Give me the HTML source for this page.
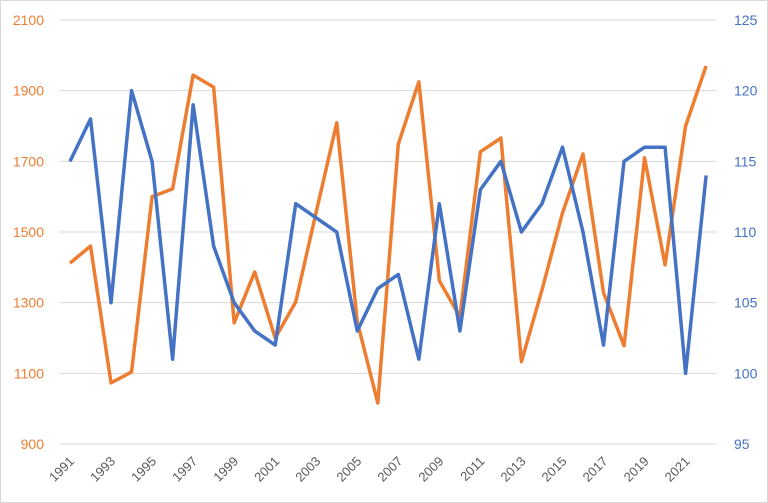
<!DOCTYPE html><html><head><style>body{margin:0;background:#fff}svg{display:block;font-family:"Liberation Sans",sans-serif}</style></head><body>
<svg id="s" width="768" height="503" xmlns="http://www.w3.org/2000/svg">
<rect x="0.5" y="0.5" width="767" height="502" fill="#fff" stroke="#d9d9d9"/>
</svg>
<script>
var s=document.getElementById('s'),h='';
var o=[1412,1460,1073,1104,1600,1622,1944,1910,1243,1387,1200,1302,1557,1809,1246,1016,1749,1925,1362,1260,1727,1766,1133,1336,1554,1721,1328,1178,1710,1407,1800,1970];
var b=[115,118,105,120,115,101,119,109,105,103,102,112,111,110,103,106,107,101,112,103,113,115,110,112,116,110,102,115,116,116,100,114];
function X(i){return 70+i*20.52}
function YL(v){return 20+(2100-v)/200*70.67}
function YR(v){return 20+(125-v)/5*70.67}
for(var k=0;k<7;k++){var y=20+k*70.67;h+='<line x1="59" x2="717" y1="'+y+'" y2="'+y+'" stroke="#d9d9d9" stroke-width="1"/>';
h+='<text x="44" y="'+(y+5)+'" text-anchor="end" font-size="14" fill="#ED7D31">'+(2100-200*k)+'</text>';
h+='<text x="734" y="'+(y+5)+'" font-size="14" fill="#4472C4">'+(125-5*k)+'</text>';}
for(var i=0;i<32;i+=2){var x=X(i)+5;h+='<text transform="translate('+x+',462) rotate(-45)" text-anchor="end" font-size="13" fill="#595959">'+(1991+i)+'</text>';}
var p='',q='';for(var i=0;i<32;i++){p+=X(i)+','+YL(o[i])+' ';q+=X(i)+','+YR(b[i])+' ';}
h+='<polyline points="'+p+'" fill="none" stroke="#ED7D31" stroke-width="3.5" stroke-linejoin="round"/>';
h+='<polyline points="'+q+'" fill="none" stroke="#4472C4" stroke-width="3.5" stroke-linejoin="round"/>';
s.innerHTML+=h;
</script></body></html>
